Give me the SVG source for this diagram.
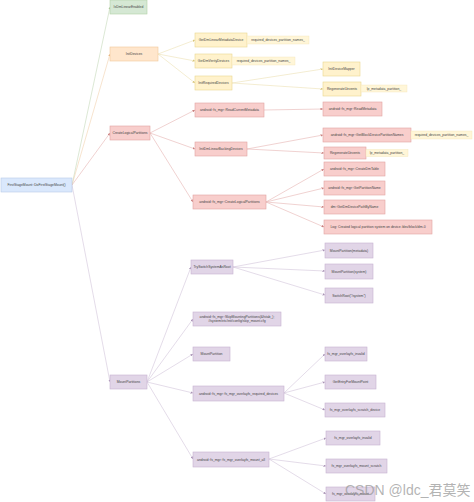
<svg xmlns="http://www.w3.org/2000/svg" width="474" height="502" viewBox="0 0 474 502">
<defs>
<style>
text{font-family:"Liberation Sans",Arial,sans-serif;font-size:3.4px;fill:#444;text-anchor:middle;dominant-baseline:central}
rect{stroke-width:0.6}
.blue{fill:#dae8fc;stroke:#b7c9e6}
.green{fill:#d5e8d4;stroke:#b3d0a6}
.orange{fill:#ffe6cc;stroke:#f0c89a}
.yellow{fill:#fff2cc;stroke:#e9d68f}
.note{fill:#fff6d8;stroke:#f2e6b8;stroke-width:0.4}
.red{fill:#f8cecc;stroke:#e2a3a1}
.purple{fill:#e1d5e7;stroke:#c6b3d1}
.e{fill:none;stroke-width:0.6}
.eg{stroke:#c5d9b8;marker-end:url(#ag)}
.eo{stroke:#f2d2ae;marker-end:url(#ao)}
.ey{stroke:#ece0b4;marker-end:url(#ay)}
.er{stroke:#e6b4b2;marker-end:url(#ar)}
.ep{stroke:#d2c4da;marker-end:url(#ap)}
.wm{font-family:"Liberation Sans","Noto Sans CJK SC",sans-serif;font-size:14px;fill:#9a9a9a;fill-opacity:0.75;text-anchor:start;dominant-baseline:auto}
</style>
<marker id="ag" viewBox="0 0 6 6" refX="6" refY="3" markerWidth="2.5" markerHeight="2.5" markerUnits="userSpaceOnUse" orient="auto"><path d="M0,0L6,3L0,6z" fill="#a9c494"/></marker>
<marker id="ao" viewBox="0 0 6 6" refX="6" refY="3" markerWidth="2.5" markerHeight="2.5" markerUnits="userSpaceOnUse" orient="auto"><path d="M0,0L6,3L0,6z" fill="#e6b27a"/></marker>
<marker id="ay" viewBox="0 0 6 6" refX="6" refY="3" markerWidth="2.5" markerHeight="2.5" markerUnits="userSpaceOnUse" orient="auto"><path d="M0,0L6,3L0,6z" fill="#d9c57a"/></marker>
<marker id="ar" viewBox="0 0 6 6" refX="6" refY="3" markerWidth="2.5" markerHeight="2.5" markerUnits="userSpaceOnUse" orient="auto"><path d="M0,0L6,3L0,6z" fill="#c97f7d"/></marker>
<marker id="ap" viewBox="0 0 6 6" refX="6" refY="3" markerWidth="2.5" markerHeight="2.5" markerUnits="userSpaceOnUse" orient="auto"><path d="M0,0L6,3L0,6z" fill="#a892b4"/></marker>
</defs>
<rect width="474" height="502" fill="#ffffff"/>

<g id="connectors">
<line class="e eg" x1="72" y1="185" x2="110" y2="7"/>
<line class="e eo" x1="72" y1="185" x2="110" y2="54"/>
<line class="e er" x1="72" y1="185" x2="110" y2="133"/>
<line class="e ep" x1="72" y1="185" x2="110" y2="382"/>

<line class="e ey" x1="158" y1="54" x2="195" y2="40"/>
<line class="e ey" x1="158" y1="54" x2="195" y2="61"/>
<line class="e ey" x1="158" y1="54" x2="195" y2="83"/>
<line class="e ey" x1="232" y1="83" x2="323" y2="69"/>
<line class="e ey" x1="232" y1="83" x2="323" y2="89"/>

<line class="e er" x1="150" y1="133" x2="195" y2="110"/>
<line class="e er" x1="150" y1="133" x2="195" y2="149"/>
<line class="e er" x1="150" y1="133" x2="193" y2="202"/>
<line class="e er" x1="264" y1="110" x2="323" y2="109"/>
<line class="e er" x1="247" y1="149" x2="323" y2="135"/>
<line class="e er" x1="247" y1="149" x2="324" y2="153"/>
<line class="e er" x1="266" y1="202" x2="324" y2="169"/>
<line class="e er" x1="266" y1="202" x2="324" y2="188"/>
<line class="e er" x1="266" y1="202" x2="324" y2="207"/>
<line class="e er" x1="266" y1="202" x2="324" y2="227"/>

<line class="e ep" x1="147" y1="382" x2="191" y2="267"/>
<line class="e ep" x1="147" y1="382" x2="193" y2="319"/>
<line class="e ep" x1="147" y1="382" x2="193" y2="354"/>
<line class="e ep" x1="147" y1="382" x2="193" y2="393"/>
<line class="e ep" x1="147" y1="382" x2="193" y2="459"/>
<line class="e ep" x1="233" y1="267" x2="325" y2="250"/>
<line class="e ep" x1="233" y1="267" x2="325" y2="271"/>
<line class="e ep" x1="233" y1="267" x2="325" y2="295"/>
<line class="e ep" x1="284" y1="393" x2="325" y2="354"/>
<line class="e ep" x1="284" y1="393" x2="325" y2="382"/>
<line class="e ep" x1="284" y1="393" x2="325" y2="410"/>
<line class="e ep" x1="269" y1="459" x2="326" y2="438"/>
<line class="e ep" x1="269" y1="459" x2="326" y2="466"/>
<line class="e ep" x1="269" y1="459" x2="326" y2="494"/>
</g>

<g id="root"><rect class="blue" x="1" y="178" width="71" height="14"/><text x="36.5" y="185">FirstStageMount::DoFirstStageMount()</text></g>

<g id="isDmLinearEnabled"><rect class="green" x="110" y="0" width="37" height="14"/><text x="128.5" y="7">IsDmLinearEnabled</text></g>

<g id="initDevices"><rect class="orange" x="110" y="47" width="48" height="14"/><text x="134" y="54">InitDevices</text></g>
<g id="getDmLinearMetadataDevice"><rect class="yellow" x="195" y="33" width="52" height="14"/><text x="221" y="40">GetDmLinearMetadataDevice</text></g>
<g id="note1"><rect class="note" x="247" y="36" width="62" height="8"/><text x="278" y="40">required_devices_partition_names_</text></g>
<g id="getDmVerityDevices"><rect class="yellow" x="195" y="54" width="37" height="14"/><text x="213.5" y="61">GetDmVerityDevices</text></g>
<g id="note2"><rect class="note" x="232" y="57" width="63" height="8"/><text x="263.5" y="61">required_devices_partition_names_</text></g>
<g id="initRequiredDevices"><rect class="yellow" x="195" y="76" width="37" height="14"/><text x="213.5" y="83">InitRequiredDevices</text></g>
<g id="initDeviceMapper"><rect class="yellow" x="323" y="62" width="37" height="14"/><text x="341.5" y="69">InitDeviceMapper</text></g>
<g id="regenerateUevents1"><rect class="yellow" x="323" y="82" width="38" height="14"/><text x="342" y="89">RegenerateUevents</text></g>
<g id="note3"><rect class="note" x="361" y="85" width="46" height="7"/><text x="384" y="88.5">lp_metadata_partition_</text></g>

<g id="createLogicalPartitions"><rect class="red" x="110" y="126" width="40" height="14"/><text x="130" y="133">CreateLogicalPartitions</text></g>
<g id="readCurrentMetadata"><rect class="red" x="195" y="103" width="69" height="14"/><text x="229.5" y="110">android::fs_mgr::ReadCurrentMetadata</text></g>
<g id="readMetadata"><rect class="red" x="323" y="102" width="59" height="14"/><text x="352.5" y="109">android::fs_mgr::ReadMetadata</text></g>
<g id="initDmLinearBackingDevices"><rect class="red" x="195" y="142" width="52" height="14"/><text x="221" y="149">InitDmLinearBackingDevices</text></g>
<g id="getBlockDevicePartitionNames"><rect class="red" x="323" y="128" width="88" height="14"/><text x="367" y="135">android::fs_mgr::GetBlockDevicePartitionNames</text></g>
<g id="note4"><rect class="note" x="411" y="131" width="61" height="8"/><text x="441.5" y="135">required_devices_partition_names_</text></g>
<g id="regenerateUevents2"><rect class="red" x="324" y="147" width="42" height="12"/><text x="345" y="153">RegenerateUevents</text></g>
<g id="note5"><rect class="note" x="366" y="149.5" width="42" height="7"/><text x="387" y="153">lp_metadata_partition_</text></g>
<g id="fsmgrCreateLogicalPartitions"><rect class="red" x="193" y="195" width="73" height="14"/><text x="229.5" y="202">android::fs_mgr::CreateLogicalPartitions</text></g>
<g id="createDmTable"><rect class="red" x="324" y="162" width="61" height="14"/><text x="354.5" y="169">android::fs_mgr::CreateDmTable</text></g>
<g id="getPartitionName"><rect class="red" x="324" y="181" width="61" height="14"/><text x="354.5" y="188">android::fs_mgr::GetPartitionName</text></g>
<g id="getDmDevicePathByName"><rect class="red" x="324" y="200" width="61" height="14"/><text x="354.5" y="207">dm::GetDmDevicePathByName</text></g>
<g id="logCreated"><rect class="red" x="324" y="220" width="108" height="14"/><text x="378" y="227">Log: Created logical partition system on device /dev/block/dm-0</text></g>

<g id="mountPartitions"><rect class="purple" x="110" y="375" width="37" height="14"/><text x="128.5" y="382">MountPartitions</text></g>
<g id="trySwitchSystemAsRoot"><rect class="purple" x="191" y="260" width="42" height="14"/><text x="212" y="267">TrySwitchSystemAsRoot</text></g>
<g id="mountPartitionMetadata"><rect class="purple" x="325" y="243" width="48" height="15"/><text x="349" y="250.5">MountPartition(metadata)</text></g>
<g id="mountPartitionSystem"><rect class="purple" x="325" y="264" width="48" height="15"/><text x="349" y="271.5">MountPartition(system)</text></g>
<g id="switchRoot"><rect class="purple" x="325" y="288" width="48" height="15"/><text x="349" y="295.5">SwitchRoot("/system")</text></g>
<g id="skipMountingPartitions"><rect class="purple" x="193" y="312" width="88" height="14"/><text x="237" y="317.2">android::fs_mgr::SkipMountingPartitions(&amp;fstab_);</text><text x="237" y="321">//system/etc/init/config/skip_mount.cfg</text></g>
<g id="mountPartition"><rect class="purple" x="193" y="347" width="37" height="14"/><text x="211.5" y="354">MountPartition</text></g>
<g id="overlayfsRequiredDevices"><rect class="purple" x="193" y="386" width="91" height="15"/><text x="238.5" y="393.5">android::fs_mgr::fs_mgr_overlayfs_required_devices</text></g>
<g id="overlayfsInvalid1"><rect class="purple" x="325" y="347" width="42" height="14"/><text x="346" y="354">fs_mgr_overlayfs_invalid</text></g>
<g id="getEntryForMountPoint"><rect class="purple" x="325" y="375" width="51" height="14"/><text x="350.5" y="382">GetEntryForMountPoint</text></g>
<g id="overlayfsScratchDevice"><rect class="purple" x="325" y="403" width="60" height="14"/><text x="355" y="410">fs_mgr_overlayfs_scratch_device</text></g>
<g id="overlayfsMountAll"><rect class="purple" x="193" y="452" width="76" height="15"/><text x="231" y="459.5">android::fs_mgr::fs_mgr_overlayfs_mount_all</text></g>
<g id="overlayfsInvalid2"><rect class="purple" x="326" y="431" width="54" height="14"/><text x="353" y="438">fs_mgr_overlayfs_invalid</text></g>
<g id="overlayfsMountScratch"><rect class="purple" x="326" y="459" width="61" height="14"/><text x="356.5" y="466">fs_mgr_overlayfs_mount_scratch</text></g>
<g id="overlayfsMount"><rect class="purple" x="326" y="487" width="49" height="14"/><text x="350.5" y="494">fs_mgr_overlayfs_mount</text></g>

<text class="wm" x="345" y="495">CSDN @ldc_君莫笑</text>
</svg>
